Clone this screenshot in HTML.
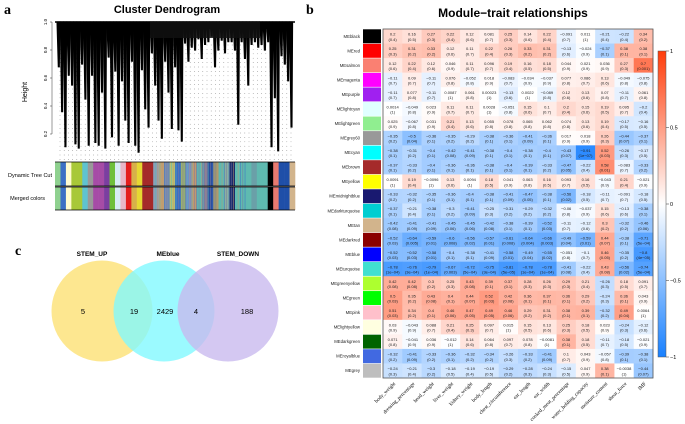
<!DOCTYPE html>
<html><head><meta charset="utf-8">
<style>
body{margin:0;background:#fff;width:685px;height:424px;overflow:hidden;font-family:"Liberation Sans",sans-serif}
svg{position:absolute;left:0;top:0}
</style></head>
<body>
<svg id="fig" width="685" height="424" viewBox="0 0 685 424" xmlns="http://www.w3.org/2000/svg">
<text x="4" y="14" font-family="Liberation Serif" font-weight="bold" font-size="14">a</text>
<text x="167" y="13" text-anchor="middle" font-weight="bold" font-size="11">Cluster Dendrogram</text>
<text x="306" y="14" font-family="Liberation Serif" font-weight="bold" font-size="14">b</text>
<text x="513" y="17" text-anchor="middle" font-weight="bold" font-size="12">Module−trait relationships</text>
<text x="15" y="255" font-family="Liberation Serif" font-weight="bold" font-size="14">c</text>
<g id="dendro"></g>
<g id="strips"></g>
<g id="venn"></g>
<g id="heat"></g>
</svg>
<script>
const NS="http://www.w3.org/2000/svg";
function mk(tag,attrs,parent,txt){const e=document.createElementNS(NS,tag);for(const k in attrs)e.setAttribute(k,attrs[k]);if(txt!==undefined)e.textContent=txt;parent.appendChild(e);return e;}

// ---------- Heatmap data ----------
const modules=["MEblack","MEred","MEsalmon","MEmagenta","MEpurple","MElightcyan","MElightgreen","MEgrey60","MEcyan","MEbrown","MEyellow","MEmidnightblue","MEdarkturquoise","MEtan","MEdarkred","MEblue","MEturquoise","MEgreenyellow","MEgreen","MEpink","MElightyellow","MEdarkgreen","MEroyalblue","MEgrey"];
const swatches=["#000000","#ff0000","#fa8072","#ff00ff","#a020f0","#e0ffff","#90ee90","#999999","#00ffff","#a52a2a","#ffff00","#191970","#00ced1","#d2b48c","#8b0000","#0000ff","#40e0d0","#adff2f","#00ff00","#ffc0cb","#ffffe0","#006400","#4169e1","#bebebe"];
const traits=["body_weight","dressing_percentage","head_weight","liver_weight","kidney_weight","body_length","chest_circumference","ear_length","ear_width","cooked_meat_percentage","water_holding_capacity","moisture_content","shear_force","IMF"];
const corrBlack=[0.2,0.16,0.27,0.22,0.12,0.081,0.25,0.14,0.22,-0.091,0.011,-0.21,-0.22,0.34];
const corrRed=[0.25,0.31,0.33,0.12,0.11,0.22,0.26,0.33,0.31,-0.13,-0.024,-0.37,0.38,0.38];
const corrSalmon=[0.12,0.22,0.12,0.046,0.11,0.096,0.19,0.16,0.18,0.044,0.021,0.036,0.27,0.7];
const corrMagenta=[-0.11,0.09,-0.11,0.076,-0.052,0.018,-0.083,-0.034,-0.037,0.077,0.086,0.13,-0.049,-0.075];
const corrPurple=[-0.11,0.077,-0.11,0.0087,0.061,0.00023,-0.13,0.0022,-0.089,0.12,0.13,0.07,-0.11,0.061];
const corrLightcyan=[0.0014,-0.049,0.023,0.11,0.11,0.0028,-0.051,0.15,0.1,0.2,0.15,0.19,0.095,-0.2];
const corrLightgreen=[0.025,-0.067,0.031,0.21,0.13,0.055,0.078,0.065,0.062,0.074,0.13,0.19,-0.17,-0.16];
const corrGrey60=[-0.35,-0.5,-0.36,-0.35,-0.29,-0.38,-0.36,-0.41,-0.36,0.017,0.018,0.26,-0.44,-0.37];
const corrCyan=[-0.38,-0.31,-0.4,-0.42,-0.41,-0.38,-0.4,-0.38,-0.4,-0.43,-0.91,0.52,-0.26,-0.17];
const corrBrown=[-0.37,-0.33,-0.4,-0.36,-0.36,-0.38,-0.4,-0.39,-0.33,-0.47,-0.22,0.58,-0.083,-0.33];
const corrYellow=[0.0091,0.19,-0.0096,0.13,0.0094,0.18,0.041,0.063,0.16,0.093,0.16,-0.043,0.21,-0.021];
const corrMidnightblue=[-0.33,-0.32,-0.35,-0.36,-0.4,-0.38,-0.41,-0.47,-0.38,-0.56,-0.18,-0.11,-0.091,-0.18];
const corrDarkturquoise=[-0.37,-0.21,-0.38,-0.3,-0.41,-0.25,-0.31,-0.29,-0.32,-0.06,-0.037,0.15,-0.13,-0.38];
const corrTan=[-0.42,-0.41,-0.41,-0.45,-0.45,-0.42,-0.38,-0.39,-0.52,-0.11,-0.12,0.3,-0.32,-0.46];
const corrDarkred=[-0.52,-0.64,-0.59,-0.6,-0.56,-0.57,-0.61,-0.64,-0.66,-0.49,-0.59,0.44,-0.38,-0.71];
const corrBlue=[-0.52,-0.52,-0.58,-0.4,-0.38,-0.41,-0.58,-0.49,-0.55,-0.051,-0.1,0.46,-0.35,-0.8];
const corrTurquoise=[-0.78,-0.76,-0.79,-0.67,-0.72,-0.75,-0.81,-0.78,-0.78,-0.41,-0.22,0.43,-0.56,-0.74];
const corrGreenyellow=[0.42,0.42,0.3,0.25,0.43,0.39,0.37,0.28,0.26,0.29,0.21,-0.26,0.18,0.091];
const corrGreen=[0.5,0.35,0.43,0.4,0.44,0.52,0.42,0.36,0.37,0.36,0.29,-0.24,0.36,0.043];
const corrPink=[0.51,0.34,0.4,0.46,0.47,0.49,0.46,0.29,0.31,0.38,0.39,-0.32,0.49,0.0064];
const corrLightyellow=[0.03,-0.043,0.088,0.21,0.25,0.097,0.015,0.15,0.13,0.25,0.18,0.023,-0.24,-0.12];
const corrDarkgreen=[0.071,-0.041,0.036,-0.012,0.14,0.064,0.097,0.078,-0.0081,0.38,0.18,-0.11,-0.18,-0.021];
const corrRoyalblue=[-0.32,-0.41,-0.33,-0.36,-0.32,-0.34,-0.26,-0.33,-0.41,0.1,0.043,-0.057,-0.39,-0.38];
const corrGrey=[-0.24,-0.21,-0.3,-0.18,-0.19,-0.19,-0.29,-0.28,-0.24,-0.15,0.047,0.38,-0.0038,-0.44];
const corr=[corrBlack,corrRed,corrSalmon,corrMagenta,corrPurple,corrLightcyan,corrLightgreen,corrGrey60,corrCyan,corrBrown,corrYellow,corrMidnightblue,corrDarkturquoise,corrTan,corrDarkred,corrBlue,corrTurquoise,corrGreenyellow,corrGreen,corrPink,corrLightyellow,corrDarkgreen,corrRoyalblue,corrGrey];
const pvals=[
"0.4 0.5 0.3 0.4 0.6 0.7 0.3 0.6 0.4 0.7 1 0.4 0.4 0.2",
"0.3 0.2 0.2 0.6 0.7 0.4 0.3 0.2 0.2 0.6 0.9 0.1 0.1 0.1",
"0.6 0.4 0.6 0.9 0.7 0.7 0.4 0.5 0.5 0.9 0.9 0.9 0.3 0.001",
"0.7 0.7 0.7 0.8 0.8 0.9 0.7 0.9 0.9 0.8 0.7 0.6 0.8 0.8",
"0.7 0.8 0.7 1 0.8 1 0.6 1 0.8 0.6 0.6 0.8 0.7 0.8",
"1 0.8 0.9 0.7 0.7 1 0.8 0.6 0.7 0.4 0.6 0.5 0.7 0.4",
"0.9 0.8 0.9 0.4 0.6 0.8 0.8 0.8 0.8 0.8 0.6 0.4 0.5 0.5",
"0.2 0.04 0.1 0.2 0.2 0.1 0.1 0.09 0.1 0.9 0.9 0.3 0.07 0.1",
"0.1 0.2 0.1 0.08 0.09 0.1 0.1 0.1 0.1 0.07 1e−07 0.03 0.3 0.5",
"0.1 0.2 0.1 0.1 0.1 0.1 0.1 0.1 0.2 0.05 0.4 0.01 0.7 0.2",
"1 0.4 1 0.6 1 0.5 0.9 0.8 0.5 0.7 0.5 0.9 0.4 0.9",
"0.2 0.2 0.1 0.1 0.1 0.1 0.09 0.05 0.1 0.02 0.5 0.7 0.7 0.5",
"0.1 0.4 0.1 0.2 0.09 0.3 0.2 0.2 0.2 0.8 0.9 0.6 0.6 0.1",
"0.08 0.09 0.09 0.06 0.06 0.08 0.1 0.1 0.03 0.7 0.6 0.2 0.2 0.06",
"0.03 0.005 0.01 0.008 0.02 0.01 0.008 0.004 0.003 0.04 0.01 0.07 0.1 5e−04",
"0.03 0.03 0.01 0.1 0.1 0.09 0.01 0.04 0.02 0.8 0.7 0.05 0.2 4e−05",
"1e−04 3e−04 1e−04 0.003 5e−04 3e−04 5e−05 1e−04 1e−04 0.08 0.4 0.08 0.02 5e−04",
"0.08 0.08 0.2 0.3 0.08 0.1 0.1 0.3 0.3 0.3 0.4 0.3 0.5 0.7",
"0.03 0.2 0.08 0.1 0.07 0.03 0.08 0.1 0.1 0.1 0.2 0.3 0.1 0.9",
"0.03 0.2 0.1 0.06 0.05 0.05 0.06 0.2 0.2 0.1 0.1 0.2 0.04 1",
"0.9 0.9 0.7 0.4 0.3 0.7 1 0.5 0.6 0.3 0.5 0.9 0.3 0.6",
"0.8 0.9 0.9 1 0.6 0.8 0.7 0.8 1 0.1 0.5 0.7 0.5 0.9",
"0.2 0.09 0.2 0.1 0.2 0.2 0.3 0.2 0.09 0.7 0.9 0.8 0.1 0.1",
"0.3 0.4 0.2 0.5 0.4 0.5 0.2 0.3 0.3 0.5 0.9 0.1 1 0.07"];
const cbTicks=[1,0.5,0,-0.5,-1];
const cbTickLabels=["1","0.5","0","−0.5","−1"];

// ---------- Venn data ----------
const vennSets=["STEM_UP","MEblue","STEM_DOWN"];
const vennCounts=["5","19","2429","4","188"];

// ---------- Dendrogram data (branch drop heights, 0-1) ----------
const leafHeights=[0.68,0.36,0.11,0.62,0.55,0.13,0.1,0.7,0.45,0.12,0.62,0.14,0.12,0.5,0.1,0.75,0.18,0.65,0.12,0.58,0.3,0.14,0.72,0.12,0.07,0.66,0.38,0.25,0.78,0.55,0.3,0.17,0.72,0.5,0.24,0.68,0.23,0.15,0.85,0.72,0.82,0.8,0.88,0.74,0.84,0.86,0.9,0.68,0.8,0.87,0.78,0.86,0.86,0.8,0.27,0.86,0.74,0.55,0.84,0.86,0.82,0.84,0.8,0.86,0.11,0.46,0.08,0.76,0.7,0.58,0.25];
const stripColors=["#8fd18f","#3b6fc4","#fffbd0","#a8c838","#a8c838","#5fc3d0","#999","#a64ca6","#a64ca6","#7b3fa0","#6fbf3a","#d8ecf4","#e8b6c8","#e31e1e","#d7b04a","#e6d832","#a52a2a","#a52a2a","#8aa0b8","#c0a070","#7a8fb0","#b8c070","#3b6fc4","#9ab070","#6f8fc8","#c09870","#5fb8b0","#7a7aa0","#2a4fa0","#a09870","#5fb8b0","#8ab0a0","#1a2a6a","#5fbab0","#5fbab0","#5fbab0","#6aa0a8","#5fbab0","#5fbab0","#000","#e97a70","#1f4fa8","#1f4fa8","#d2b48c"];

function heatColor(v){
  const t=Math.min(1,Math.abs(v));
  const end=v>=0?[255,60,10]:[24,128,255];
  const c=end.map(e=>Math.round(255+(e-255)*t));
  return `rgb(${c[0]},${c[1]},${c[2]})`;
}
function fmt(v){return String(v).replace("-","−");}

// ----- Heatmap -----
const heat=document.getElementById('heat');
const HX0=383,HX1=653,HY0=29,HY1=378;
const cw=(HX1-HX0)/traits.length, ch=(HY1-HY0)/modules.length;
const xCol=j=>HX0+j*cw, yRow=i=>HY0+i*ch;
modules.forEach((m,i)=>{
  const sw=mk('rect',{x:363,y:yRow(i)+0.3,width:18,height:ch-0.6,fill:swatches[i]},heat);
  
  
  const lb=mk('text',{x:360,y:yRow(i)+ch/2+1.5,'text-anchor':'end','font-size':4.3,fill:'#222'},heat,m);
  
  
  const pv=pvals[i].split(' ');
  traits.forEach((t,j)=>{
    const v=corr[i][j];
    const r=mk('rect',{x:xCol(j),y:yRow(i),width:cw+0.3,height:ch+0.3,fill:heatColor(v)},heat);
    
    
    const tx=mk('text',{x:xCol(j)+cw/2,y:yRow(i)+ch/2-0.6,'text-anchor':'middle','font-size':4,fill:'#222'},heat,fmt(v));
    
    
    const tp=mk('text',{x:xCol(j)+cw/2,y:yRow(i)+ch/2+4.6,'text-anchor':'middle','font-size':4,fill:'#222'},heat,'('+pv[j]+')');
    
    
  });
});
const hb=mk('rect',{x:HX0,y:HY0,width:HX1-HX0,height:HY1-HY0,fill:'none',stroke:'#555','stroke-width':0.8},heat);


traits.forEach((t,j)=>{
  const x=xCol(j)+cw/2+3, y=HY1+6;
  const tl=mk('text',{x:x,y:y,'text-anchor':'end','font-size':5.2,'font-family':'Liberation Serif',transform:`rotate(-45 ${x} ${y})`},heat,t);
  
  
});
const CBX=658,CBW=8,CBY0=51,CBY1=357;
const cbY=v=>CBY0+(1-v)/2*(CBY1-CBY0);
const defs=mk('defs',{},heat);
const lg=mk('linearGradient',{id:'cbg',x1:0,y1:0,x2:0,y2:1},defs);
[1,0.5,0,-0.5,-1].forEach((v,k)=>mk('stop',{offset:k/4,'stop-color':heatColor(v)},lg));
const cb=mk('rect',{x:CBX,y:CBY0,width:CBW,height:CBY1-CBY0,fill:'url(#cbg)',stroke:'#555','stroke-width':0.5},heat);


cbTicks.forEach((v,k)=>{
  mk('line',{x1:CBX+CBW,x2:CBX+CBW+3,y1:cbY(v),y2:cbY(v),stroke:'#333','stroke-width':0.5},heat);
  const tl=mk('text',{x:CBX+CBW+4,y:cbY(v)+2,'font-size':5.5},heat,cbTickLabels[k]);
  
  
});

// ----- Dendrogram -----
const dg=document.getElementById('dendro');
const DX0=55,DX1=295,DY0=22,DY1=162;
const yH=h=>DY1-(h)*(DY1-DY0);
for(let gx=60;gx<DX1;gx+=4.2)for(let gy=45;gy<DY1;gy+=4.4) mk('circle',{cx:gx,cy:gy,r:0.35,fill:'#555'},dg);
mk('line',{x1:DX0,x2:DX1,y1:yH(1),y2:yH(1),stroke:'#000','stroke-width':1.5},dg);
const step=(DX1-DX0-4)/leafHeights.length;
leafHeights.forEach((h,k)=>{
  const x=DX0+2+k*step+step/2;
  const ln=mk('path',{d:`M${x-1.6} ${yH(1)} L${x-0.3} ${yH(h)} L${x+0.6} ${yH(h)} L${x+1.2} ${yH(1)}Z`,stroke:'#000','stroke-width':1.2,fill:'#000'},dg);
  
  
});
mk('rect',{x:DX0+2,y:yH(1),width:DX1-DX0-4,height:7,fill:'#000'},dg);
mk('rect',{x:150,y:yH(1),width:110,height:16,fill:'#111',opacity:0.85},dg);
mk('line',{x1:DX0-3,x2:DX0-3,y1:yH(1),y2:yH(0.2),stroke:'#333','stroke-width':0.5},dg);
[0.2,0.4,0.6,0.8,1.0].forEach(v=>{
  mk('line',{x1:DX0-5,x2:DX0-3,y1:yH(v),y2:yH(v),stroke:'#333','stroke-width':0.5},dg);
  const x=DX0-8,y=yH(v);
  const t=mk('text',{x:x,y:y,'text-anchor':'middle','font-size':4.5,transform:`rotate(-90 ${x} ${y})`},dg,v.toFixed(1));
  
  
});
const ht=mk('text',{x:27,y:92,'text-anchor':'middle','font-size':7,transform:'rotate(-90 27 92)'},dg,'Height');



// ----- Strips -----
const sg=document.getElementById('strips');
const sw=(DX1-DX0)/stripColors.length;
[[162,186],[187,210]].forEach(([a,b],r)=>{
  stripColors.forEach((c,k)=>{
    const re=mk('rect',{x:DX0+k*sw,y:a,width:sw+0.3,height:b-a,fill:c},sg);
    
    
  });
  for(let x=DX0+100;x<DX0+190;x+=2.3) mk('rect',{x:x,y:a,width:0.7,height:b-a,fill:['#3b6fc4','#c09870','#7a7aa0','#5fb8b0'][Math.floor(x)%4],opacity:0.7},sg);
  mk('line',{x1:DX0,x2:DX1,y1:a,y2:a,stroke:'#000','stroke-width':0.8},sg);
  mk('line',{x1:DX0,x2:DX1,y1:b,y2:b,stroke:'#000','stroke-width':0.8},sg);
});
const l1=mk('text',{x:52,y:177,'text-anchor':'end','font-size':5.5},sg,'Dynamic Tree Cut');


const l2=mk('text',{x:45,y:200,'text-anchor':'end','font-size':5.5},sg,'Merged colors');



// ----- Venn -----
const vg=document.getElementById('venn');
const vc=[[102,'#fde68a'],[164,'#7ff9ff'],[228,'#c8b8ee']];
vc.forEach(([cx,col],k)=>{
  const c=mk('circle',{cx:cx,cy:311,r:50.5,fill:col,opacity:k==0?0.95:0.78},vg);
  
  
  const t=mk('text',{x:[92,168,238][k],y:256,'text-anchor':'middle','font-size':6.5,'font-weight':'bold'},vg,vennSets[k]);
  
  
});
[83,134,165,196,247].forEach((x,k)=>{
  const t=mk('text',{x:x,y:314,'text-anchor':'middle','font-size':7.5},vg,vennCounts[k]);
  
  
});
</script>
</body></html>
